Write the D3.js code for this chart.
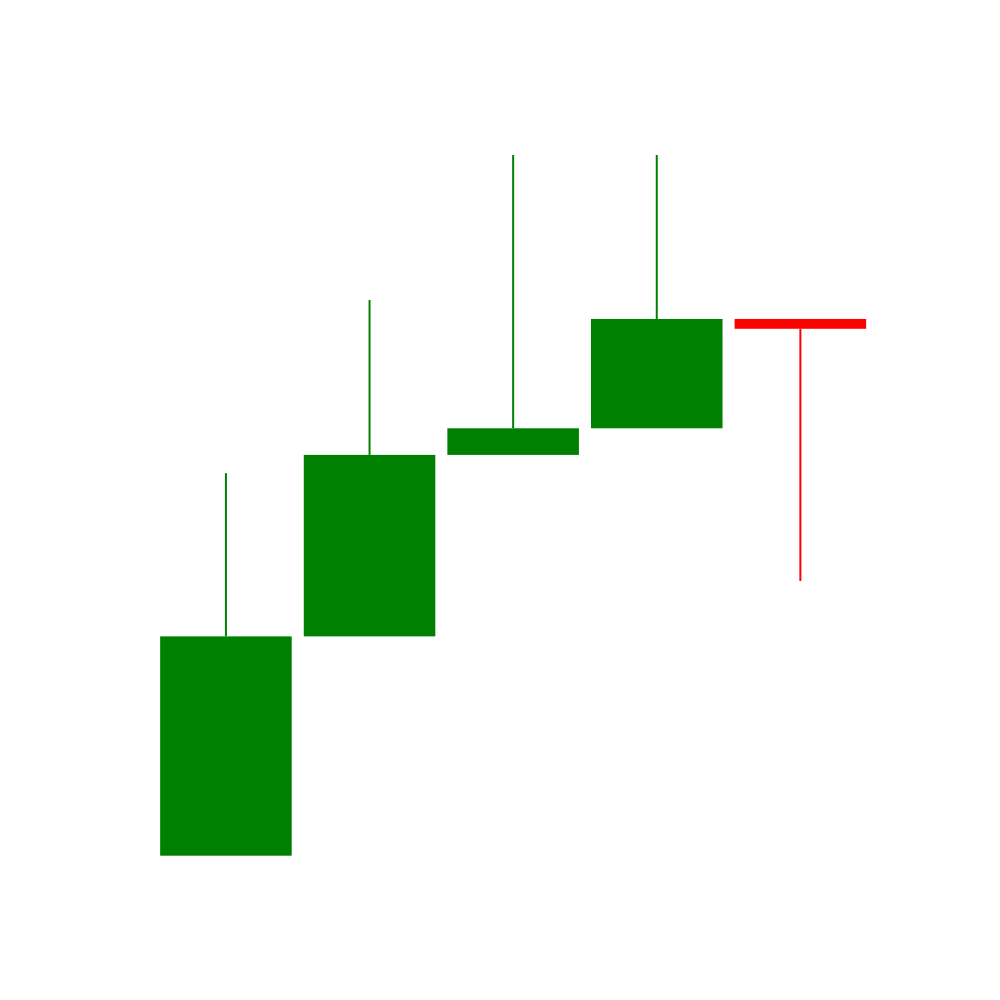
<!DOCTYPE html>
<html>
<head>
<meta charset="utf-8">
<script src="https://cdn.jsdelivr.net/npm/d3@7"></script>
<style>
  body { margin: 0; background: #fff; }
</style>
</head>
<body>
<div id="chart"></div>
<script>
// candle data
var days  = ["d1", "d2", "d3", "d4", "d5"];
var open  = [100.0, 131.3, 157.2, 161.0, 176.6];
var close = [131.3, 157.2, 161.0, 176.6, 175.2];
var high  = [154.6, 179.3, 200.0, 200.0, 176.6];
var low   = [100.0, 131.3, 157.2, 161.0, 139.2];

var width = 1000, height = 1000;

var data = days.map(function(d, i) {
  return { day: d, open: open[i], close: close[i], high: high[i], low: low[i] };
});

var svg = d3.select("#chart")
  .append("svg")
  .attr("width", width)
  .attr("height", height);

var x = d3.scaleBand()
  .domain(days)
  .range([152.4, 873.9])
  .paddingInner(0.084)
  .paddingOuter(0.054);

var y = d3.scaleLinear()
  .domain([100, 200])
  .range([855.7, 155]);

var color = function(d) { return d.close >= d.open ? "#008000" : "#ff0000"; };
var mid = function(d) { return x(d.day) + x.bandwidth() / 2; };

// wicks: upper part high -> body top, lower part body bottom -> low
var wicks = [];
data.forEach(function(d) {
  var top = Math.max(d.open, d.close), bot = Math.min(d.open, d.close);
  if (d.high > top) wicks.push({ d: d, from: d.high, to: top });
  if (d.low < bot) wicks.push({ d: d, from: bot, to: d.low });
});

svg.append("g").attr("class", "wicks")
  .selectAll("line")
  .data(wicks)
  .enter()
  .append("line")
  .attr("x1", function(w) { return mid(w.d); })
  .attr("x2", function(w) { return mid(w.d); })
  .attr("y1", function(w) { return y(w.from); })
  .attr("y2", function(w) { return y(w.to); })
  .attr("stroke", function(w) { return color(w.d); })
  .attr("stroke-width", 2);

// bodies
svg.append("g").attr("class", "bodies")
  .selectAll("rect")
  .data(data)
  .enter()
  .append("rect")
  .attr("x", function(d) { return x(d.day); })
  .attr("width", x.bandwidth())
  .attr("y", function(d) { return y(Math.max(d.open, d.close)); })
  .attr("height", function(d) { return Math.abs(y(d.open) - y(d.close)); })
  .attr("fill", color);
</script>
</body>
</html>
